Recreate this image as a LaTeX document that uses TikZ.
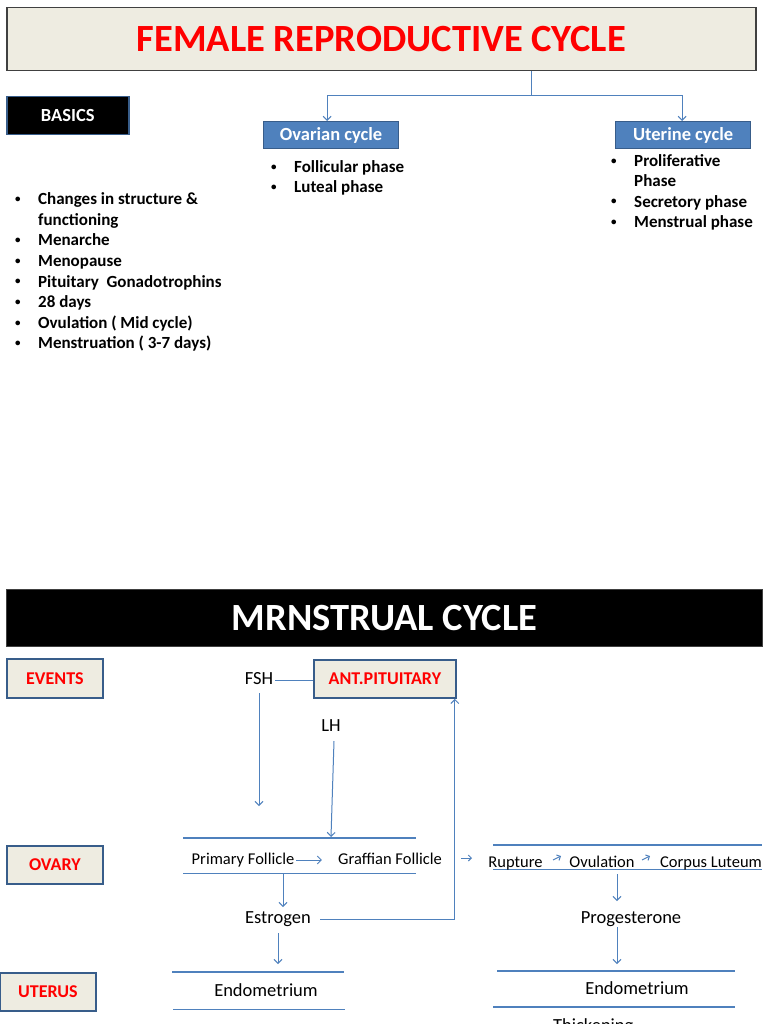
\documentclass[tikz,border=0pt]{standalone}
\usepackage{fontspec}
\setmainfont{Carlito}
\usetikzlibrary{arrows.meta,calc}
\definecolor{lblue}{HTML}{4F81BD}
\definecolor{dblue}{HTML}{385D8A}
\definecolor{beige}{HTML}{EEECE1}
\definecolor{tred}{HTML}{FF0000}
\definecolor{dgray}{HTML}{404040}
\newcommand\myblt{\raisebox{0.12em}{\fontsize{11}{11}\selectfont •}}
\begin{document}
\begin{tikzpicture}[x=1pt,y=-1pt,
  conn/.style={draw=lblue, line width=1pt},
  arr/.style={conn, -{Straight Barb[length=4pt,width=8pt]}},
  tiny/.style={conn, -{Straight Barb[length=3pt,width=6pt]}},
  band/.style={draw=lblue, line width=1.2pt},
  eventbox/.style={draw=dblue, line width=1.8pt, fill=beige, inner sep=0pt,
     anchor=north west, text=tred, font=\fontsize{18}{20}\selectfont\bfseries},
  cyclebox/.style={draw=dblue, line width=1.2pt, fill=lblue, inner sep=0pt,
     anchor=north west, text=white, font=\fontsize{18.5}{20}\selectfont\bfseries},
  lbl/.style={inner sep=2pt, text height=0.92em, text depth=0pt, yshift=-2pt,
     font=\fontsize{18.5}{20}\selectfont},
  slbl/.style={inner sep=2pt, text height=0.95em, text depth=0pt, yshift=-2pt,
     font=\fontsize{16.5}{18}\selectfont},
  blist/.style={inner sep=0pt, anchor=north west, align=left}
]
\useasboundingbox (0,0) rectangle (768,1024);
\fill[white] (0,0) rectangle (768,1024);

% ---------- top part ----------
\node[draw=dgray, line width=1.5pt, fill=beige, inner sep=0pt, anchor=north west,
      minimum width=749, minimum height=63, text=tred,
      font=\fontsize{38.5}{40}\selectfont\bfseries] (title) at (6,7) {FEMALE REPRODUCTIVE CYCLE};

\node[draw=dblue, line width=1.5pt, fill=black, inner sep=0pt, anchor=north west,
      minimum width=122, minimum height=38, text=white,
      font=\fontsize{18.5}{20}\selectfont\bfseries] (basics) at (6,96) {BASICS};

\node[cyclebox, minimum width=135, minimum height=27] (ovarian) at (263,121) {Ovarian cycle};
\node[cyclebox, minimum width=135, minimum height=27] (uterine) at (615,121) {Uterine cycle};

\coordinate (split) at (531,96);
\draw[conn] (title.south -| split) -- (split);
\draw[arr] (split) -| ([xshift=-4pt]ovarian.north);
\draw[arr] (split) -| ([xshift=-1pt]uterine.north);

\node[blist] (basiclist) at (15,190) {\fontsize{17}{20.6}\selectfont\bfseries
  \begin{tabular}{@{}p{23pt}@{}l@{}}
  \myblt & Changes in structure \&\\
    & functioning\\
  \myblt & Menarche\\
  \myblt & Menopause\\
  \myblt & Pituitary\ \ Gonadotrophins\\
  \myblt & 28 days\\
  \myblt & Ovulation ( Mid cycle)\\
  \myblt & Menstruation ( 3-7 days)
  \end{tabular}};

\node[blist] (ovlist) at (271,158.5) {\fontsize{17}{20}\selectfont\bfseries
  \begin{tabular}{@{}p{23pt}@{}l@{}}
  \myblt & Follicular phase\\
  \myblt & Luteal phase
  \end{tabular}};

\node[blist] (utlist) at (611,152) {\fontsize{17}{20.3}\selectfont\bfseries
  \begin{tabular}{@{}p{23pt}@{}l@{}}
  \myblt & Proliferative\\
    & Phase\\
  \myblt & Secretory phase\\
  \myblt & Menstrual phase
  \end{tabular}};

% ---------- menstrual cycle ----------
\node[draw=dgray, line width=1pt, fill=black, inner sep=0pt, anchor=north west,
      minimum width=756, minimum height=57, text=white,
      font=\fontsize{38.5}{40}\selectfont\bfseries] (mtitle) at (6,589) {MRNSTRUAL CYCLE};

\node[eventbox, minimum width=96, minimum height=39] (events) at (6,658) {EVENTS};
\node[eventbox, minimum width=142, minimum height=38] (ant) at (313,659) {ANT.PITUITARY};
\node[eventbox, minimum width=96, minimum height=38] (ovary) at (6,845) {OVARY};
\node[eventbox, minimum width=96, minimum height=38] (uterus) at (-1,972) {UTERUS};

\node[lbl] (FSH) at (259,678) {FSH};
\node[lbl] (LH) at (331,725) {LH};
\draw[conn] (FSH.east) -- (FSH.east -| ant.west);

\coordinate (fshstart) at (259,693);
\coordinate (fshend) at (259,806);
\draw[arr] (fshstart) -- (fshend);

\coordinate (lhstart) at (334,741);
\coordinate (lhend) at (331,837);
\draw[arr] (lhstart) -- (lhend);

% ovary band
\draw[band] (183,838) -- (416,838);
\draw[band] (183,873.5) -- (416,873.5);
\node[slbl] (prim) at (243,858) {Primary Follicle};
\node[slbl] (graf) at (390,858) {Graffian Follicle};
\draw[arr, shorten >=14pt] (prim.east) -- (graf.west);

\coordinate (ga1) at (461,858);
\coordinate (ga2) at (472,858);
\draw[tiny] (ga1) -- (ga2);

% rupture band
\draw[band] (493,845) -- (762,845);
\draw[band] (493,869.5) -- (762,869.5);
\node[slbl] (rupt) at (515.5,861) {Rupture};
\node[slbl] (ovul) at (602,861) {Ovulation};
\node[slbl] (corp) at (711,861) {Corpus Luteum};
\coordinate (ro1) at (553,860);
\coordinate (ro2) at (561,856);
\draw[tiny] (ro1) -- (ro2);
\coordinate (oc1) at (642,860);
\coordinate (oc2) at (650,856);
\draw[tiny] (oc1) -- (oc2);

% estrogen
\node[lbl] (estro) at (278,917) {Estrogen};
\coordinate (pfbot) at (283,874);
\coordinate (estrotop) at (283,907);
\draw[arr] (pfbot) -- (estrotop);
\draw[arr, shorten <=7pt] (estro.east) -| ([xshift=-2pt]ant.south east);

\coordinate (estrobot) at (278,933);
\coordinate (estroend) at (278,964);
\draw[arr] (estrobot) -- (estroend);

% left endometrium
\draw[band] (172,972) -- (344,972);
\draw[band] (173,1009.5) -- (345,1009.5);
\node[lbl] (endoL) at (266,990) {Endometrium};

% progesterone
\node[lbl] (prog) at (631,917) {Progesterone};
\coordinate (clbot) at (617,874);
\coordinate (progtop) at (617,901);
\draw[arr] (clbot) -- (progtop);
\coordinate (progbot) at (617,927);
\coordinate (progend) at (617,964);
\draw[arr] (progbot) -- (progend);

% right endometrium
\draw[band] (497,971) -- (735,971);
\draw[band] (493,1007) -- (735,1007);
\node[lbl] (endoR) at (637,988) {Endometrium};

\node[blist] (thick) at (528,1017) {\fontsize{18.5}{21}\selectfont
  \begin{tabular}{@{}p{25pt}@{}l@{}}
  \myblt & Thickening
  \end{tabular}};
\end{tikzpicture}
\end{document}
